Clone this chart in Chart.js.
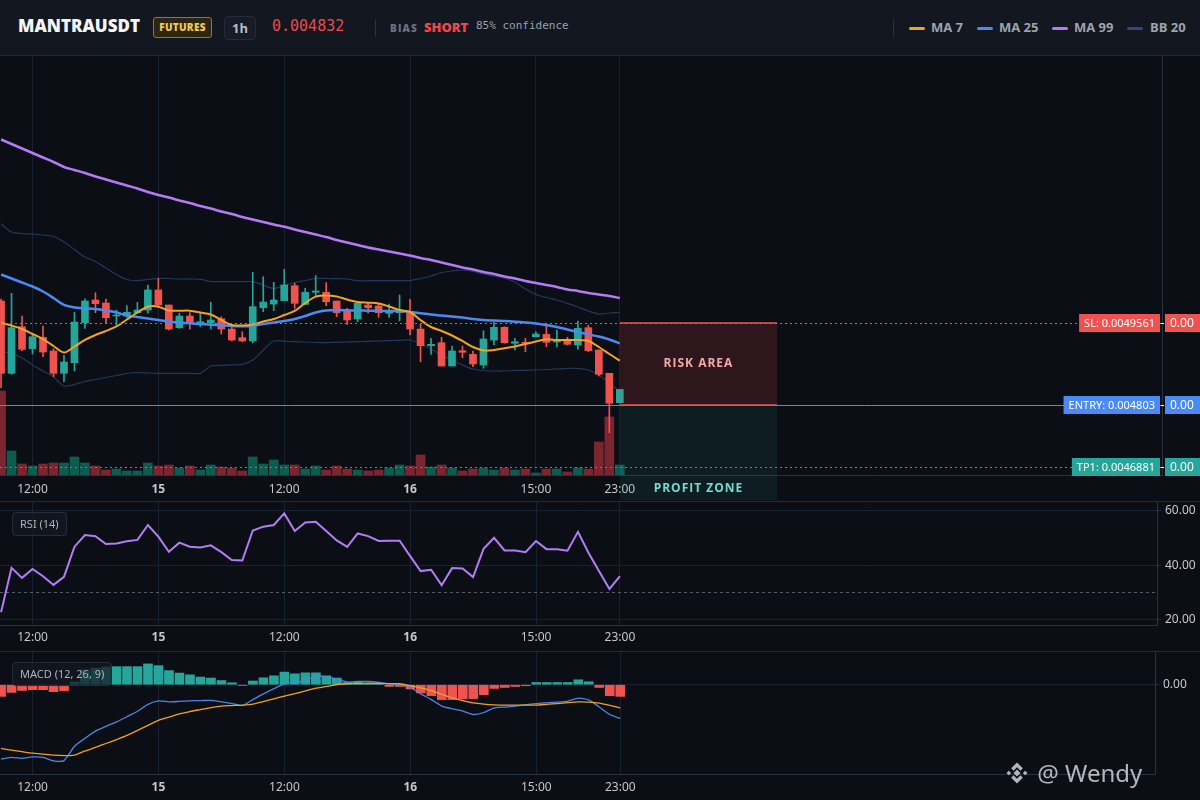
<!DOCTYPE html>
<html>
<head>
<meta charset="utf-8">
<title>MANTRAUSDT 1h</title>
<script src="https://cdn.jsdelivr.net/npm/chart.js@4.4.1/dist/chart.umd.min.js"></script>
<style>
html, body { margin:0; padding:0; width:1200px; height:800px; overflow:hidden; background:#0b0e14; }
body { position:relative; font-family:"Open Sans","Noto Sans",sans-serif; }
#header { position:absolute; left:0; top:0; width:1200px; height:55px; background:#121720; border-bottom:1px solid #222936; }
#header div { position:absolute; white-space:nowrap; }
.pane { position:absolute; left:0; width:1200px; }
#mainPane { top:56px; height:445px; }
#rsiPane { top:502px; height:149px; }
#macdPane { top:652px; height:148px; }
.sep { position:absolute; left:0; width:1200px; height:1px; background:#222936; }
.tag { position:absolute; left:12px; padding:0 7px; height:22px; line-height:22px; font-size:11px; color:#aeb3bd;
       background:rgba(20,25,34,0.72); border:1px solid #262d3a; border-radius:4px; font-family:"Noto Sans",sans-serif; }
.sw { width:16px; height:3px; border-radius:2px; top:27px; }
.lg { top:18px; font-size:13px; font-weight:700; color:#9ea3ae; }
#mark { position:absolute; left:1003px; top:756px; color:#cfd3da; opacity:0.85; font-family:"Noto Sans",sans-serif; font-size:24px; }
</style>
</head>
<body>
<div id="header">
  <div style="left:18px;top:14px;font-size:17px;font-weight:800;color:#f4f5f7">MANTRAUSDT</div>
  <div style="left:153px;top:17px;width:57px;height:19px;border:1px solid #9c7618;background:#2c2512;border-radius:3px;color:#f2c94c;font-size:10px;font-weight:800;text-align:center;line-height:19px;letter-spacing:0.3px">FUTURES</div>
  <div style="left:224px;top:16px;width:30px;height:22px;border:1px solid #252c39;background:#161b25;border-radius:4px;color:#b9bdc7;font-size:13px;font-weight:700;text-align:center;line-height:22px">1h</div>
  <div style="left:272px;top:17px;font-family:'DejaVu Sans Mono',monospace;font-size:15px;color:#f0474c">0.004832</div>
  <div style="left:375px;top:19px;width:1px;height:18px;background:#2a3140"></div>
  <div style="left:390px;top:21px;font-size:10px;font-weight:800;color:#6b7280;letter-spacing:1.2px">BIAS</div>
  <div style="left:424px;top:18px;font-size:13px;font-weight:800;color:#f0474c">SHORT</div>
  <div style="left:476px;top:19px;font-family:'DejaVu Sans Mono',monospace;font-size:11px;color:#9aa0ab">85% confidence</div>
  <div style="left:893px;top:19px;width:1px;height:18px;background:#2a3140"></div>
  <div class="sw" style="left:909px;background:#f5a31d"></div><div class="lg" style="left:931px">MA 7</div>
  <div class="sw" style="left:977px;background:#4a8af5"></div><div class="lg" style="left:999px">MA 25</div>
  <div class="sw" style="left:1052px;background:#b57bf7"></div><div class="lg" style="left:1074px">MA 99</div>
  <div class="sw" style="left:1127px;background:#2a4a80"></div><div class="lg" style="left:1150px">BB 20</div>
</div>

<div class="pane" id="mainPane"><canvas id="mainChart"></canvas></div>
<div class="sep" style="top:501px"></div>
<div class="pane" id="rsiPane"><canvas id="rsiChart"></canvas></div>
<div class="sep" style="top:651px"></div>
<div class="pane" id="macdPane"><canvas id="macdChart"></canvas></div>

<div class="tag" style="top:512px">RSI (14)</div>
<div class="tag" style="top:662px">MACD (12, 26, 9)</div>

<div id="mark">
  <svg width="28" height="28" viewBox="0 0 24 24" style="vertical-align:-5px;fill:#cfd3da">
    <polygon points="12,9 15,12 12,15 9,12"/>
    <polygon points="12,3 17,8 15,10 12,7 9,10 7,8"/>
    <polygon points="12,21 7,16 9,14 12,17 15,14 17,16"/>
    <polygon points="3,12 5,10 7,12 5,14"/>
    <polygon points="21,12 19,10 17,12 19,14"/>
  </svg> @ Wendy
</div>

<script>
// 1h candles, 60 bars
const opens = [0.004997, 0.0048621, 0.004949, 0.004908, 0.0049293, 0.0049037, 0.0048621, 0.0048819, 0.0049565, 0.0049989,
  0.0049933, 0.004969, 0.004969, 0.0049752, 0.0049802, 0.0050176, 0.0049896, 0.0049472, 0.004969, 0.0049565,
  0.0049565, 0.004964, 0.0049447, 0.0049286, 0.0049224, 0.0049845, 0.0049914, 0.0049976, 0.0050256, 0.0049908,
  0.0050133, 0.0050133, 0.004997, 0.0049789, 0.0049634, 0.0049896, 0.0049877, 0.0049741, 0.0049752, 0.0049741,
  0.0049447, 0.0049136, 0.0049192, 0.0048757, 0.0049043, 0.0048975, 0.0048776, 0.0049242, 0.0049479, 0.0049181,
  0.0049192, 0.0049304, 0.0049349, 0.0049205, 0.0049224, 0.0049149, 0.0049472, 0.0049056, 0.0048621, 0.0048073];
const highs = [0.0050008, 0.0050114, 0.004969, 0.0049336, 0.0049503, 0.004908, 0.0048957, 0.0049759, 0.0050013, 0.0050125,
  0.0050008, 0.0049802, 0.0049883, 0.0049946, 0.0050269, 0.0050394, 0.0049896, 0.0049741, 0.0049752, 0.0049741,
  0.0049946, 0.0049677, 0.0049503, 0.0049397, 0.0050506, 0.0050424, 0.0050319, 0.0050562, 0.0050301, 0.0050208,
  0.0050443, 0.0050312, 0.004997, 0.0049834, 0.0049957, 0.0049946, 0.0049927, 0.0049914, 0.0050082, 0.0050002,
  0.0049535, 0.0049274, 0.0049293, 0.004913, 0.004913, 0.0049037, 0.0049416, 0.0049572, 0.004949, 0.0049274,
  0.0049274, 0.0049397, 0.0049522, 0.0049429, 0.0049293, 0.0049597, 0.0049522, 0.0049056, 0.0048621, 0.004832];
const lows = [0.0048353, 0.0048602, 0.0049043, 0.0048981, 0.004893, 0.0048558, 0.0048465, 0.0048664, 0.004946, 0.0049752,
  0.0049565, 0.0049522, 0.0049666, 0.0049741, 0.0049741, 0.0049883, 0.0049429, 0.004946, 0.0049447, 0.004949,
  0.0049447, 0.0049354, 0.0049224, 0.0049211, 0.0049192, 0.004977, 0.0049789, 0.0049976, 0.0049834, 0.0049896,
  0.005005, 0.0049883, 0.0049677, 0.0049535, 0.0049584, 0.0049741, 0.0049666, 0.0049666, 0.0049597, 0.0049336,
  0.0048837, 0.0048975, 0.0048757, 0.0048757, 0.0048912, 0.0048744, 0.0048714, 0.0049149, 0.0049181, 0.0049056,
  0.0049024, 0.0049304, 0.0049117, 0.0049117, 0.0049149, 0.0049069, 0.0049024, 0.0048571, 0.0047514, 0.0048062];
const closes = [0.0048621, 0.0049472, 0.0049069, 0.0049304, 0.0049018, 0.0048621, 0.0048832, 0.0049578, 0.004997, 0.004992,
  0.0049659, 0.0049709, 0.0049759, 0.0049802, 0.0050176, 0.0049896, 0.0049447, 0.004969, 0.0049565, 0.0049584,
  0.0049616, 0.0049447, 0.0049242, 0.0049224, 0.0049864, 0.0049951, 0.0049989, 0.0050269, 0.0049927, 0.0050133,
  0.0050157, 0.0049957, 0.0049752, 0.0049616, 0.0049927, 0.0049845, 0.0049752, 0.004977, 0.0049802, 0.0049447,
  0.0049136, 0.0049162, 0.0048757, 0.0049037, 0.0049013, 0.0048794, 0.0049261, 0.0049479, 0.0049192, 0.0049211,
  0.0049181, 0.0049354, 0.00492, 0.0049224, 0.0049162, 0.004946, 0.0049043, 0.0048602, 0.0048062, 0.004832];
const volumes = [84, 24, 11, 9, 11, 12, 12, 18, 12, 9, 5, 6, 4, 4, 12, 9, 10, 7, 9, 5,
  10, 8, 7, 4, 18, 11, 15, 10, 10, 6, 9, 5, 9, 6, 5, 4, 5, 7, 10, 9,
  20, 8, 10, 7, 4, 6, 7, 5, 7, 5, 6, 2, 6, 6, 3, 7, 6, 33, 58, 10];

const ma7 = [0.0049569, 0.0049513, 0.0049448, 0.0049355, 0.0049261, 0.0049131, 0.0049009, 0.0049121, 0.0049243, 0.0049336,
  0.0049411, 0.0049495, 0.0049625, 0.0049756, 0.0049864, 0.0049864, 0.0049793, 0.0049789, 0.0049789, 0.0049756,
  0.0049718, 0.0049616, 0.0049522, 0.0049513, 0.0049532, 0.0049588, 0.0049634, 0.0049709, 0.0049784, 0.0049933,
  0.0050051, 0.0050073, 0.0050054, 0.0049998, 0.0049952, 0.0049939, 0.0049924, 0.0049868, 0.0049802, 0.0049765,
  0.0049616, 0.0049485, 0.0049411, 0.0049327, 0.0049224, 0.0049112, 0.0049047, 0.0049056, 0.0049088, 0.0049121,
  0.0049168, 0.0049215, 0.0049256, 0.0049243, 0.0049243, 0.0049243, 0.0049224, 0.0049112, 0.0048981, 0.0048856];
const ma25 = [0.0050465, 0.005039, 0.0050316, 0.0050241, 0.0050148, 0.0050026, 0.0049896, 0.0049849, 0.0049834, 0.0049821,
  0.0049793, 0.0049756, 0.00497, 0.0049672, 0.0049644, 0.0049616, 0.0049588, 0.0049569, 0.0049554, 0.0049541,
  0.0049528, 0.0049517, 0.0049504, 0.0049498, 0.0049504, 0.0049541, 0.0049569, 0.0049597, 0.0049634, 0.004969,
  0.0049756, 0.0049793, 0.0049802, 0.0049797, 0.0049793, 0.0049789, 0.0049787, 0.0049784, 0.0049784, 0.0049765,
  0.0049741, 0.0049718, 0.00497, 0.0049681, 0.0049662, 0.0049634, 0.0049616, 0.0049606, 0.0049597, 0.0049584,
  0.0049569, 0.004955, 0.0049522, 0.0049485, 0.0049439, 0.0049392, 0.0049345, 0.0049308, 0.0049252, 0.0049181];
const ma99 = [0.0052984, 0.00529, 0.0052816, 0.0052732, 0.0052648, 0.0052564, 0.0052471, 0.0052415, 0.0052359, 0.0052294,
  0.0052238, 0.0052182, 0.0052126, 0.005207, 0.0052004, 0.0051948, 0.0051902, 0.0051846, 0.0051799, 0.0051743,
  0.0051696, 0.005164, 0.0051594, 0.0051538, 0.0051491, 0.0051444, 0.0051398, 0.0051357, 0.0051305, 0.0051258,
  0.0051211, 0.0051165, 0.0051109, 0.0051062, 0.0051015, 0.0050969, 0.0050931, 0.0050894, 0.0050857, 0.0050819,
  0.0050773, 0.0050735, 0.0050689, 0.0050642, 0.0050595, 0.0050558, 0.0050511, 0.0050474, 0.0050427, 0.005039,
  0.0050344, 0.0050306, 0.0050269, 0.0050232, 0.0050185, 0.0050157, 0.005012, 0.0050092, 0.0050064, 0.0050026];
const bbUpper = [0.0051407, 0.0051258, 0.005123, 0.0051221, 0.0051202, 0.0051174, 0.0051071, 0.0050931, 0.0050791, 0.0050707,
  0.0050586, 0.0050465, 0.0050372, 0.0050349, 0.0050372, 0.0050394, 0.005039, 0.0050381, 0.0050381, 0.0050375,
  0.0050334, 0.0050331, 0.0050331, 0.0050331, 0.0050331, 0.0050269, 0.0050204, 0.005026, 0.0050316, 0.0050353,
  0.005039, 0.005039, 0.0050387, 0.0050381, 0.0050349, 0.0050349, 0.0050349, 0.0050349, 0.0050349, 0.0050353,
  0.005039, 0.0050437, 0.0050502, 0.005053, 0.0050549, 0.0050521, 0.0050474, 0.0050437, 0.0050399, 0.0050325,
  0.0050194, 0.0050092, 0.0050036, 0.0049989, 0.0049927, 0.0049859, 0.0049784, 0.0049728, 0.0049746, 0.0049756];
const bbLower = [0.0049024, 0.0048994, 0.0048907, 0.0048776, 0.0048664, 0.0048552, 0.0048384, 0.0048412, 0.0048468, 0.0048506,
  0.0048543, 0.004858, 0.0048618, 0.0048636, 0.0048627, 0.0048621, 0.0048621, 0.0048621, 0.0048621, 0.0048621,
  0.0048757, 0.004877, 0.004878, 0.0048789, 0.0048869, 0.0049056, 0.0049224, 0.0049218, 0.0049211, 0.0049205,
  0.0049196, 0.0049192, 0.00492, 0.0049205, 0.0049211, 0.0049218, 0.0049224, 0.004923, 0.0049237, 0.0049243,
  0.0049168, 0.0049075, 0.0048963, 0.0048869, 0.0048776, 0.0048701, 0.0048673, 0.0048664, 0.0048664, 0.0048673,
  0.0048677, 0.0048683, 0.0048692, 0.0048701, 0.0048711, 0.0048714, 0.0048683, 0.0048589, 0.004844, 0.0048278];

const rsi14 = [22.6, 39.0, 35.3, 38.6, 35.9, 32.7, 35.7, 46.8, 51.1, 50.7,
  47.8, 48.0, 48.8, 49.3, 54.8, 50.5, 44.9, 48.3, 46.8, 46.5,
  47.3, 44.8, 41.9, 41.7, 52.8, 54.2, 54.8, 59.1, 52.6, 55.7,
  56.0, 52.6, 49.1, 46.7, 51.7, 50.7, 48.9, 49.0, 49.0, 43.3,
  37.8, 38.3, 32.6, 38.9, 38.8, 35.6, 46.0, 50.1, 45.4, 45.4,
  44.8, 48.9, 45.9, 45.9, 45.3, 52.3, 44.6, 37.8, 31.2, 35.9];
const macdLine = [-30.0e-6, -29.3e-6, -29.7e-6, -29.1e-6, -29.3e-6, -30.7e-6, -30.6e-6, -24.8e-6, -21.6e-6, -18.7e-6,
  -16.8e-6, -15.0e-6, -12.9e-6, -10.7e-6, -7.9e-6, -6.5e-6, -6.9e-6, -6.7e-6, -6.5e-6, -6.4e-6,
  -6.3e-6, -6.9e-6, -7.6e-6, -8.4e-6, -6.0e-6, -3.7e-6, -1.6e-6, 0.3e-6, 1.0e-6, 1.7e-6,
  3.4e-6, 3.2e-6, 2.2e-6, 1.1e-6, 1.3e-6, 1.3e-6, 0.9e-6, 0.4e-6, -0.1e-6, -1.2e-6,
  -3.7e-6, -6.0e-6, -8.6e-6, -9.7e-6, -10.6e-6, -12.0e-6, -11.2e-6, -9.3e-6, -9.0e-6, -8.6e-6,
  -8.0e-6, -7.6e-6, -7.2e-6, -7.0e-6, -6.6e-6, -5.4e-6, -6.1e-6, -9.0e-6, -12.0e-6, -13.6e-6];
const macdSignal = [-25.7e-6, -26.4e-6, -27.0e-6, -27.6e-6, -28.0e-6, -28.4e-6, -28.6e-6, -28.4e-6, -26.7e-6, -25.3e-6,
  -23.7e-6, -22.1e-6, -20.4e-6, -18.4e-6, -16.4e-6, -14.4e-6, -13.1e-6, -11.8e-6, -10.8e-6, -10.0e-6,
  -9.2e-6, -8.6e-6, -8.4e-6, -8.2e-6, -7.8e-6, -6.8e-6, -5.7e-6, -4.6e-6, -3.6e-6, -2.5e-6,
  -1.4e-6, -0.7e-6, 0.1e-6, 0.4e-6, 0.5e-6, 0.5e-6, 0.5e-6, 0.4e-6, 0.4e-6, -0.4e-6,
  -1.3e-6, -2.4e-6, -3.9e-6, -5.3e-6, -6.4e-6, -7.3e-6, -7.8e-6, -8.1e-6, -8.2e-6, -8.2e-6,
  -8.2e-6, -8.2e-6, -7.9e-6, -7.6e-6, -7.2e-6, -6.9e-6, -7.0e-6, -7.4e-6, -8.3e-6, -9.3e-6];
const macdHist = [-4.7e-6, -3.1e-6, -2.3e-6, -2.0e-6, -2.0e-6, -2.8e-6, -2.4e-6, 1.1e-6, 6.0e-6, 6.7e-6,
  7.1e-6, 7.3e-6, 7.3e-6, 7.3e-6, 8.4e-6, 7.7e-6, 5.7e-6, 4.7e-6, 4.0e-6, 3.1e-6,
  2.7e-6, 1.7e-6, 0.8e-6, -0.3e-6, 1.5e-6, 2.8e-6, 3.6e-6, 5.1e-6, 4.4e-6, 4.8e-6,
  4.8e-6, 3.6e-6, 2.7e-6, 0.9e-6, 1.1e-6, 0.7e-6, 0.3e-6, -0.7e-6, -0.7e-6, -1.7e-6,
  -3.3e-6, -4.4e-6, -6.0e-6, -6.0e-6, -5.7e-6, -5.6e-6, -4.0e-6, -1.5e-6, -1.1e-6, -0.7e-6,
  -0.4e-6, 0.9e-6, 0.9e-6, 0.9e-6, 0.9e-6, 2.0e-6, 1.2e-6, -1.1e-6, -4.4e-6, -4.7e-6];

const tickIdx = [3, 15, 27, 39, 51, 59];
const tickText = ['12:00', '15', '12:00', '16', '15:00', '23:00'];
const dayTicks = ['15', '16'];
const rsiTicks = [20, 40, 60];
const rsiOversold = 30;

const slPrice = 0.0049561;
const entryPrice = 0.004803;
const tp1Price = 0.0046881;
const profitFloor = 0.0046257;
const zoneFrom = 59, zoneTo = 74;

const UP = '#26a69a', DOWN = '#ef5350';
const GRID = '#1a2130', EDGE = '#2a3240', TXT = '#c3c7d0';

Chart.defaults.font.family = '"Noto Sans", sans-serif';
Chart.defaults.color = TXT;

const pts = arr => arr.map((v, i) => ({ x: i, y: v }));
const isUp = closes.map((c, i) => c >= opens[i]);

function timeAxis(max, pad) {
  return {
    type: 'linear', min: -0.1, max: max, offset: false,
    afterBuildTicks: s => { s.ticks = tickIdx.map(v => ({ value: v })); },
    afterFit: s => { s.height = 26; },
    ticks: {
      color: TXT, autoSkip: false, maxRotation: 0, padding: pad,
      callback: v => tickText[tickIdx.indexOf(v)],
      font: c => ({ size: 12, weight: dayTicks.includes(tickText[c.index]) ? 'bold' : 'normal' })
    },
    grid: { color: GRID, drawTicks: false, offset: false },
    border: { color: EDGE }
  };
}

// right-hand value axis with no extra top/bottom label padding
function sideFit(width) {
  return s => { s.width = width; s.paddingTop = 0; s.paddingBottom = 0; };
}

const baseOpts = {
  animation: false, responsive: true, maintainAspectRatio: false, events: [],
  layout: { padding: 0 },
  plugins: { legend: { display: false }, tooltip: { enabled: false } },
  datasets: { bar: { grouped: false } }
};

// trade levels, zones and right-side price tags
const levels = [
  { name: 'SL', price: slPrice, color: '#ef5350', dash: [2, 3] },
  { name: 'ENTRY', price: entryPrice, color: '#4a8af5', dash: [] },
  { name: 'TP1', price: tp1Price, color: '#26a69a', dash: [2, 3] }
];

const tradeZones = {
  id: 'tradeZones',
  afterDatasetsDraw(chart) {
    const { ctx, chartArea, scales: { y } } = chart;
    ctx.save();
    levels.forEach(l => {
      const py = Math.round(y.getPixelForValue(l.price)) + 0.5;
      ctx.strokeStyle = l.color;
      ctx.lineWidth = 1;
      ctx.setLineDash(l.dash);
      ctx.beginPath();
      ctx.moveTo(chartArea.left, py);
      ctx.lineTo(chartArea.right, py);
      ctx.stroke();
    });
    ctx.restore();
  },
  afterDraw(chart) {
    const { ctx, chartArea, scales: { x, y } } = chart;
    const x0 = x.getPixelForValue(zoneFrom), x1 = x.getPixelForValue(zoneTo);
    const ySl = y.getPixelForValue(slPrice), yEn = y.getPixelForValue(entryPrice);
    const yFl = y.getPixelForValue(profitFloor);
    ctx.save();
    ctx.fillStyle = 'rgba(239,83,80,0.15)';
    ctx.fillRect(x0, ySl, x1 - x0, yEn - ySl);
    ctx.fillStyle = 'rgba(38,166,154,0.10)';
    ctx.fillRect(x0, yEn, x1 - x0, yFl - yEn);
    ctx.strokeStyle = '#ef5350';
    ctx.lineWidth = 1.5;
    [ySl, yEn].forEach(py => {
      ctx.beginPath(); ctx.moveTo(x0, py); ctx.lineTo(x1, py); ctx.stroke();
    });
    ctx.font = 'bold 12px "Open Sans"';
    ctx.letterSpacing = '1px';
    ctx.textAlign = 'center';
    ctx.textBaseline = 'middle';
    ctx.fillStyle = '#f7a8a8';
    ctx.fillText('RISK AREA', (x0 + x1) / 2, (ySl + yEn) / 2);
    ctx.fillStyle = '#74dccf';
    ctx.fillText('PROFIT ZONE', (x0 + x1) / 2, chartArea.bottom + 14);

    ctx.letterSpacing = '0px';
    ctx.font = '11px "Noto Sans"';
    ctx.textAlign = 'left';
    levels.forEach(l => {
      const py = Math.round(y.getPixelForValue(l.price));
      const t = l.name + ': ' + l.price;
      const w = ctx.measureText(t).width + 10;
      const right = chartArea.right - 2;
      ctx.fillStyle = l.color;
      ctx.fillRect(right - w, py - 9, w, 18);
      ctx.fillRect(chartArea.right + 3, py - 9, chart.width - chartArea.right - 3, 18);
      ctx.fillStyle = '#ffffff';
      ctx.font = '12px "Noto Sans"';
      ctx.fillText('0.00', chartArea.right + 8, py + 1);
      ctx.font = '11px "Noto Sans"';
      ctx.fillText(t, right - w + 5, py + 1);
      ctx.fillRect(chartArea.right - 1, py, 3, 1);
    });
    ctx.restore();
  }
};

new Chart(document.getElementById('mainChart'), {
  type: 'bar',
  data: {
    datasets: [
      { type: 'bar', yAxisID: 'yVol', data: pts(volumes), barThickness: 9, order: 10,
        backgroundColor: isUp.map(u => u ? '#0e5b4f' : '#7b2531') },
      { type: 'line', data: pts(bbUpper), borderColor: '#22395d', borderWidth: 1.2, pointRadius: 0, tension: 0.3, order: 9 },
      { type: 'line', data: pts(bbLower), borderColor: '#22395d', borderWidth: 1.2, pointRadius: 0, tension: 0.3, order: 9 },
      { type: 'bar', data: closes.map((c, i) => ({ x: i, y: [lows[i], highs[i]] })), barThickness: 1, order: 6,
        backgroundColor: isUp.map(u => u ? UP : DOWN) },
      { type: 'bar', data: closes.map((c, i) => ({ x: i, y: [opens[i], c] })), barThickness: 7, minBarLength: 1, order: 5,
        backgroundColor: isUp.map(u => u ? UP : DOWN) },
      { type: 'line', data: pts(ma99), borderColor: '#b57bf7', borderWidth: 2.5, pointRadius: 0, tension: 0.3, order: 3 },
      { type: 'line', data: pts(ma25), borderColor: '#4a8af5', borderWidth: 2.5, pointRadius: 0, tension: 0.3, order: 2 },
      { type: 'line', data: pts(ma7), borderColor: '#f5a31d', borderWidth: 2, pointRadius: 0, tension: 0.3, order: 1 }
    ]
  },
  options: Object.assign({}, baseOpts, {
    scales: {
      x: timeAxis(110.7, 7),
      y: {
        position: 'right', min: 0.00467235, max: 0.0054542,
        ticks: { display: false }, grid: { display: false },
        border: { color: EDGE },
        afterFit: sideFit(38)
      },
      yVol: { display: false, min: 0, max: 419 }
    }
  }),
  plugins: [tradeZones]
});

const rsiGuide = {
  id: 'rsiGuide',
  beforeDatasetsDraw(chart) {
    const { ctx, chartArea, scales: { y } } = chart;
    const py = Math.round(y.getPixelForValue(rsiOversold)) + 0.5;
    ctx.save();
    ctx.strokeStyle = '#565d6b';
    ctx.setLineDash([3, 3]);
    ctx.lineWidth = 1;
    ctx.beginPath();
    ctx.moveTo(chartArea.left, py);
    ctx.lineTo(chartArea.right, py);
    ctx.stroke();
    ctx.restore();
  }
};

new Chart(document.getElementById('rsiChart'), {
  type: 'line',
  data: {
    datasets: [{ data: pts(rsi14), borderColor: '#b27df5', borderWidth: 2, pointRadius: 0, tension: 0 }]
  },
  options: Object.assign({}, baseOpts, {
    scales: {
      x: timeAxis(110.2, 5),
      y: {
        position: 'right', min: 17.9, max: 63.3,
        afterBuildTicks: s => { s.ticks = rsiTicks.map(v => ({ value: v })); },
        afterFit: sideFit(43),
        ticks: { color: TXT, padding: 4, font: { size: 12 }, callback: v => v.toFixed(2) },
        grid: { color: GRID, tickLength: 4, tickColor: EDGE },
        border: { color: EDGE }
      }
    }
  }),
  plugins: [rsiGuide]
});

new Chart(document.getElementById('macdChart'), {
  type: 'bar',
  data: {
    datasets: [
      { type: 'bar', data: pts(macdHist), barThickness: 9, order: 5,
        backgroundColor: macdHist.map(v => v >= 0 ? UP : DOWN) },
      { type: 'line', data: pts(macdLine), borderColor: '#4a86e8', borderWidth: 1.3, pointRadius: 0, tension: 0.2, order: 2 },
      { type: 'line', data: pts(macdSignal), borderColor: '#f0a020', borderWidth: 1.3, pointRadius: 0, tension: 0.2, order: 1 }
    ]
  },
  options: Object.assign({}, baseOpts, {
    scales: {
      x: timeAxis(109.95, 6),
      y: {
        position: 'right', min: -36e-6, max: 13.2e-6,
        afterBuildTicks: s => { s.ticks = [{ value: 0 }]; },
        afterFit: sideFit(45),
        ticks: { color: TXT, padding: 4, font: { size: 12 }, callback: v => v.toFixed(2) },
        grid: { color: GRID, tickLength: 4, tickColor: EDGE },
        border: { color: EDGE }
      }
    }
  })
});
</script>
</body>
</html>
